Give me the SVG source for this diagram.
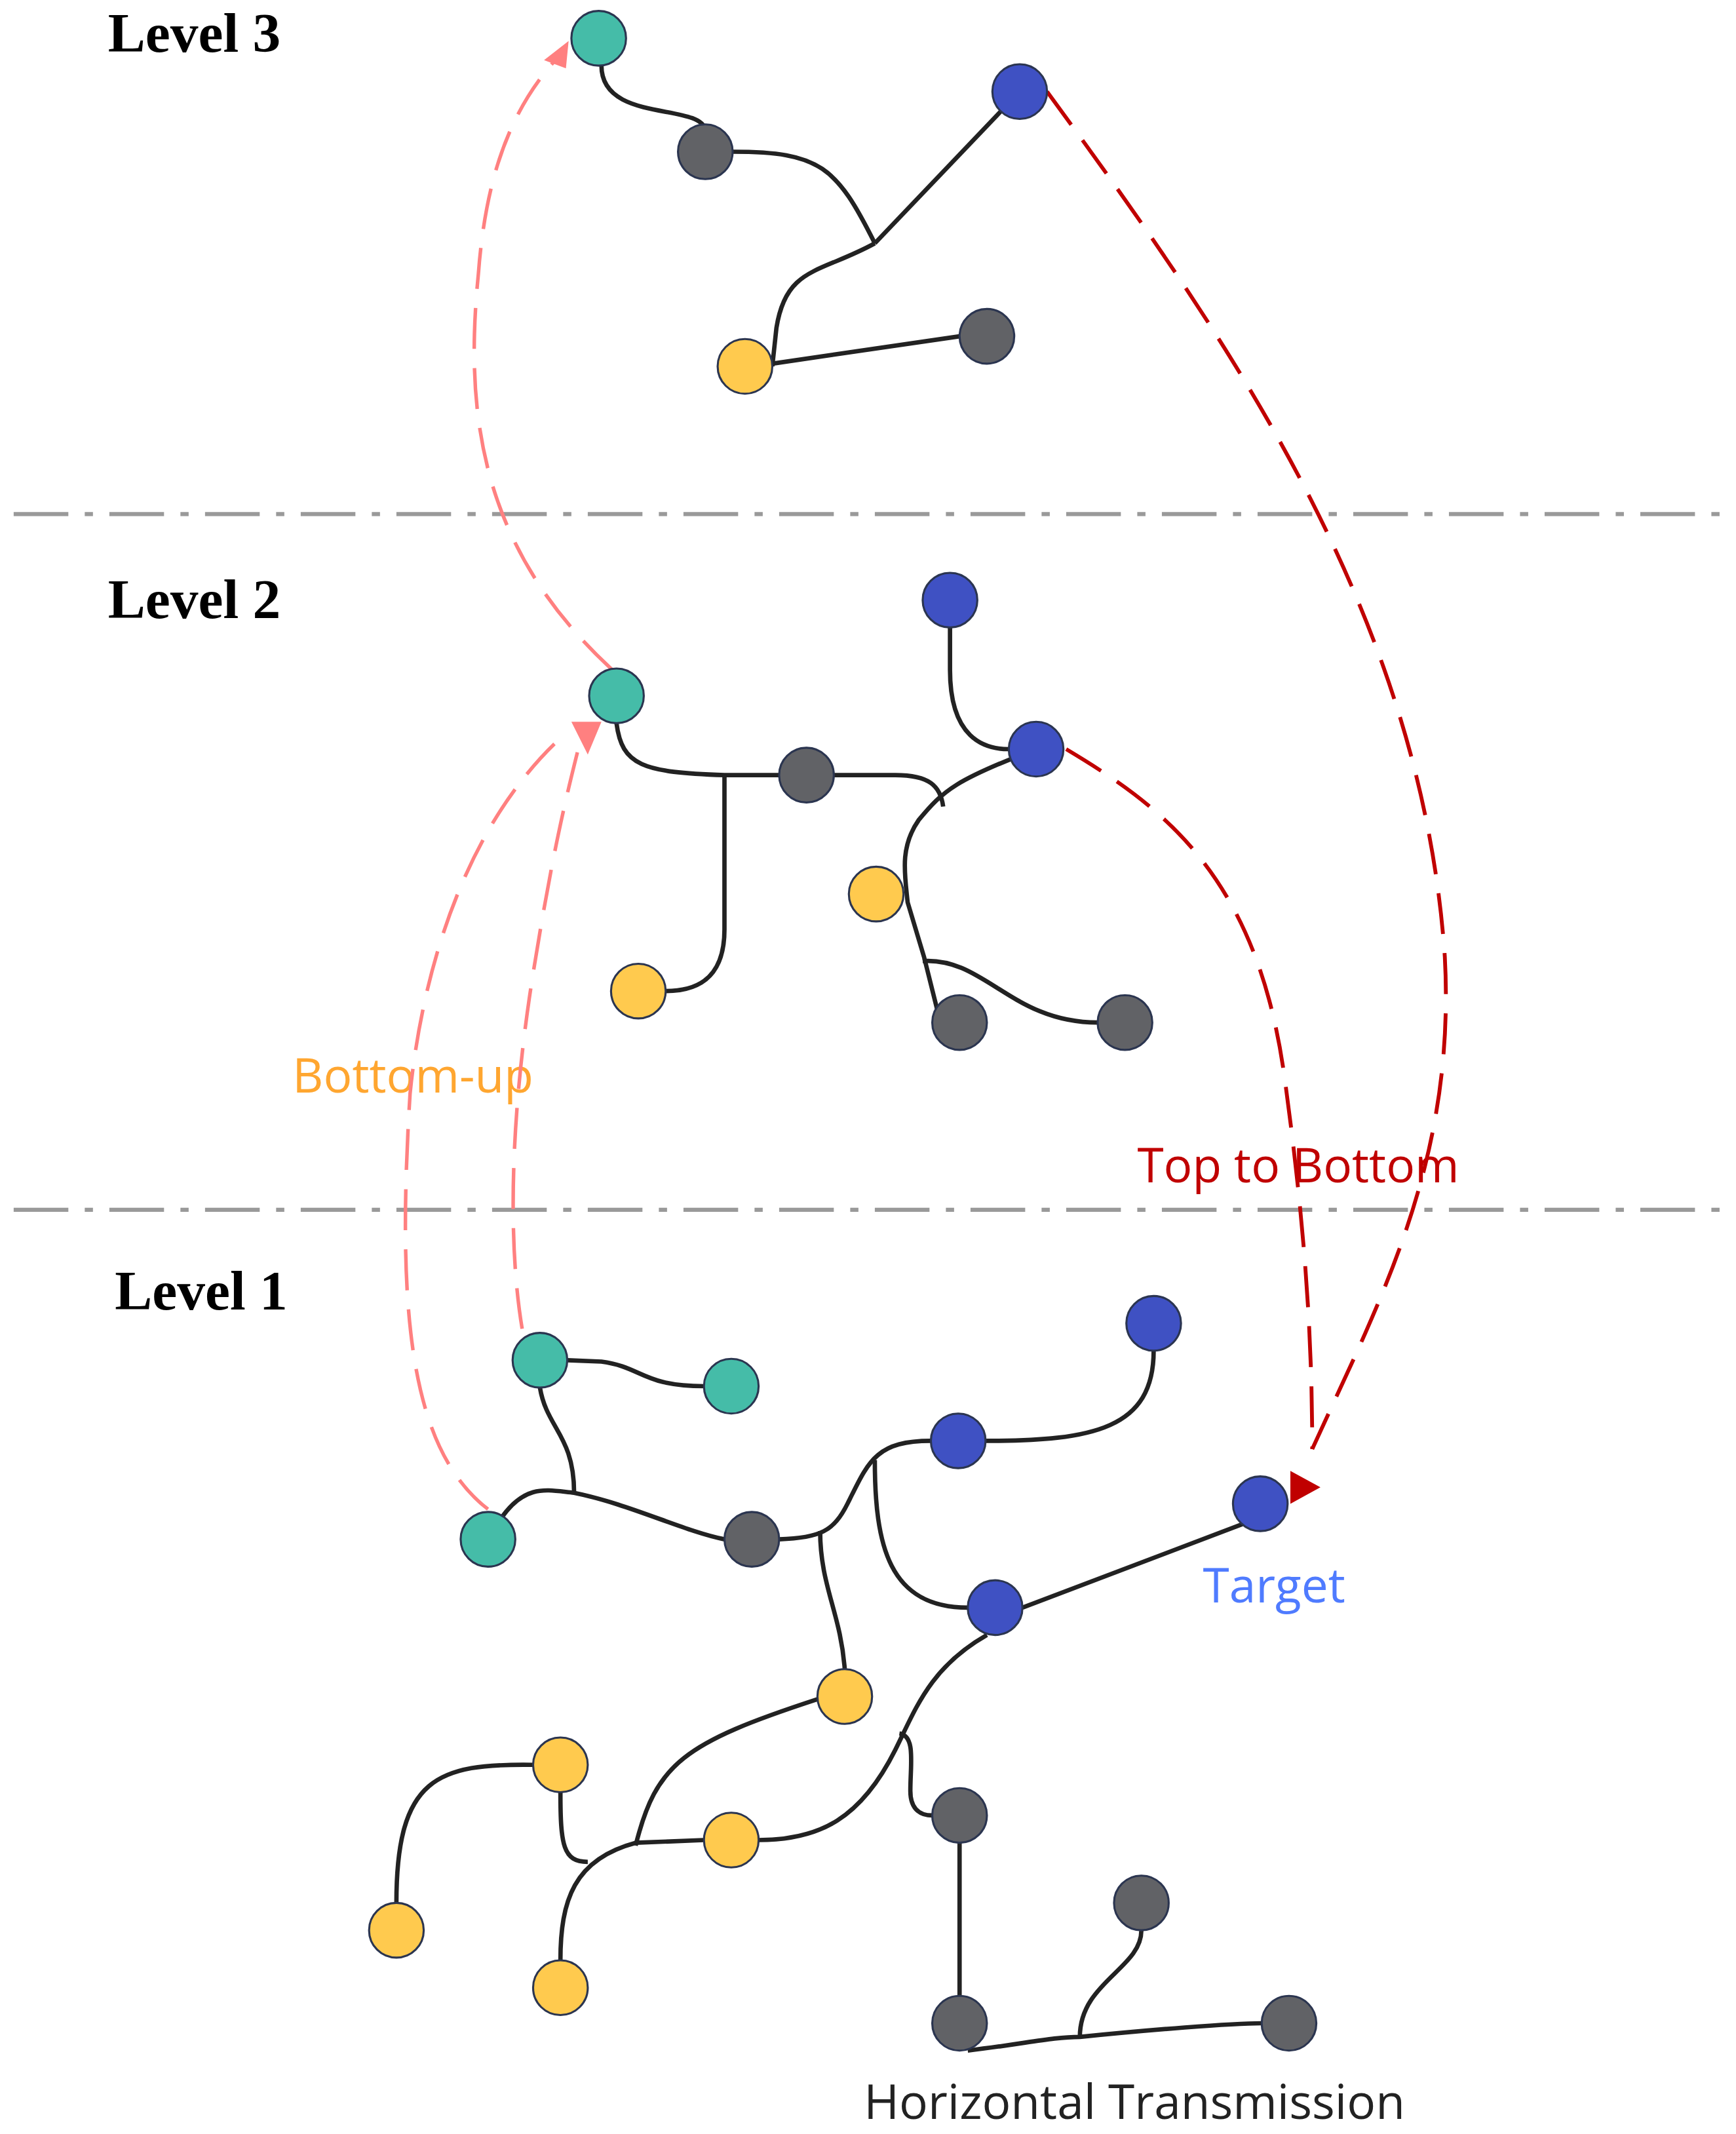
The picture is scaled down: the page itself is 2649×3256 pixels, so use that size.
<svg xmlns="http://www.w3.org/2000/svg" width="2649" height="3256" viewBox="0 0 2649 3256">
<style>
.n{stroke:#2b3550;stroke-width:1.5}
.t{fill:#45BCA8}.b{fill:#3F51C3}.g{fill:#616266}.y{fill:#FFCA4E}
.e{fill:none;stroke:#222;stroke-width:3.2}
.pk{fill:none;stroke:#FF8080;stroke-width:2.6;stroke-dasharray:30 14}
.rd{fill:none;stroke:#C00000;stroke-width:2.8;stroke-dasharray:30 14}
.sep{stroke:#999;stroke-width:3;stroke-dasharray:40 12 6 12}
.lv{font-family:"Liberation Serif",serif;font-weight:bold;font-size:41px;fill:#000}
.lb{font-family:"Open Sans","DejaVu Sans",sans-serif;font-size:35px}
</style>
<rect width="2649" height="3256" fill="#fff"/>
<g transform="scale(2.0858)">
<line class="sep" x1="10" y1="376" x2="1265" y2="376"/>
<line class="sep" x1="10" y1="885" x2="1265" y2="885"/>
<g id="labels">
<text class="lv" x="79" y="38">Level 3</text>
<text class="lv" x="79" y="452">Level 2</text>
<text class="lv" x="84" y="958">Level 1</text>
<text class="lb" x="214" y="799" fill="#FFA630">Bottom-up</text>
<text class="lb" x="832" y="865" fill="#C00000">Top to Bottom</text>
<text class="lb" x="880" y="1172" fill="#4F7BFF" font-size="44">Target</text>
<text class="lb" x="632" y="1550" fill="#222" font-size="34">Horizontal Transmission</text>
</g>
<g id="connectors">
<path class="e" d="M440,48 C440,90 512,75 516,95"/>
<path class="e" d="M536,111 C600,111 612,122 640,178"/>
<path class="e" d="M746,67 L640,178"/>
<path class="e" d="M640,178 C600,200 575,195 568,240 L565,268"/>
<path class="e" d="M565,266 L702,246"/>
<path class="e" d="M695,459 L695,490 C695,540 720,548 738,548"/>
<path class="e" d="M758,548 C700,570 690,578 672,600 C658,620 662,640 664,660 L676,700 L688,748"/>
<path class="e" d="M675,703 C720,700 740,748 803,748"/>
<path class="e" d="M451,529 C455,560 470,565 530,567 L570,567"/>
<path class="e" d="M610,567 L655,567 C680,567 688,575 690,590"/>
<path class="e" d="M530,567 L530,680 C530,720 505,725 487,725"/>
<path class="e" d="M415,995 L440,996 C470,1000 470,1014 515,1014"/>
<path class="e" d="M395,1015 C400,1045 420,1050 420,1092"/>
<path class="e" d="M367,1110 C385,1085 400,1090 420,1092 C460,1100 500,1120 530,1126"/>
<path class="e" d="M570,1126 C600,1125 610,1120 620,1100 C635,1070 640,1054 681,1054"/>
<path class="e" d="M721,1054 C800,1054 844,1045 844,988"/>
<path class="e" d="M640,1068 C640,1130 650,1176 708,1176"/>
<path class="e" d="M748,1176 L922,1110"/>
<path class="e" d="M600,1120 C600,1160 615,1180 618,1221"/>
<path class="e" d="M722,1196 C680,1220 670,1250 655,1280 C630,1330 600,1346 555,1346"/>
<path class="e" d="M658,1268 C670,1270 666,1290 666,1310 C666,1325 675,1328 682,1328"/>
<path class="e" d="M598,1243 C500,1275 480,1290 465,1350"/>
<path class="e" d="M515,1346 L465,1348 C420,1360 410,1390 410,1434"/>
<path class="e" d="M410,1311 C410,1350 412,1362 430,1362"/>
<path class="e" d="M390,1291 C320,1290 290,1300 290,1392"/>
<path class="e" d="M702,1348 L702,1460"/>
<path class="e" d="M708,1500 C750,1495 770,1490 790,1490 C840,1485 900,1480 923,1480"/>
<path class="e" d="M835,1412 C835,1440 790,1450 790,1490"/>
<path class="pk" d="M448,490 C350,400 340,300 350,200 C356,120 378,75 408,42"/>
<polygon points="416,30 398,44 414,50" fill="#FF8080"/>
<path class="pk" d="M357,1104 C300,1060 290,960 300,800 C310,700 345,600 410,540"/>
<path class="pk" d="M382,972 C370,900 375,800 392,700 C405,620 415,580 423,548"/>
<polygon points="440,528 418,528 430,552" fill="#FF8080"/>
<path class="rd" d="M766,67 C900,250 1040,450 1057,700 C1065,850 1010,950 960,1060"/>
<path class="rd" d="M780,548 C850,590 920,640 940,790 C955,900 960,980 960,1060"/>
<polygon points="944,1076 944,1100 966,1088" fill="#C00000"/>
</g>
<g id="n1"><circle class="n t" cx="438" cy="28" r="20"/></g>
<g id="n2"><circle class="n g" cx="516" cy="111" r="20"/></g>
<g id="n3"><circle class="n b" cx="746" cy="67" r="20"/></g>
<g id="n4"><circle class="n y" cx="545" cy="268" r="20"/></g>
<g id="n5"><circle class="n g" cx="722" cy="246" r="20"/></g>
<g id="n6"><circle class="n b" cx="695" cy="439" r="20"/></g>
<g id="n7"><circle class="n b" cx="758" cy="548" r="20"/></g>
<g id="n8"><circle class="n t" cx="451" cy="509" r="20"/></g>
<g id="n9"><circle class="n g" cx="590" cy="567" r="20"/></g>
<g id="n10"><circle class="n y" cx="641" cy="654" r="20"/></g>
<g id="n11"><circle class="n y" cx="467" cy="725" r="20"/></g>
<g id="n12"><circle class="n g" cx="702" cy="748" r="20"/></g>
<g id="n13"><circle class="n g" cx="823" cy="748" r="20"/></g>
<g id="n14"><circle class="n t" cx="395" cy="995" r="20"/></g>
<g id="n15"><circle class="n t" cx="535" cy="1014" r="20"/></g>
<g id="n16"><circle class="n t" cx="357" cy="1126" r="20"/></g>
<g id="n17"><circle class="n g" cx="550" cy="1126" r="20"/></g>
<g id="n18"><circle class="n b" cx="844" cy="968" r="20"/></g>
<g id="n19"><circle class="n b" cx="701" cy="1054" r="20"/></g>
<g id="n20"><circle class="n b" cx="922" cy="1100" r="20"/></g>
<g id="n21"><circle class="n b" cx="728" cy="1176" r="20"/></g>
<g id="n22"><circle class="n y" cx="618" cy="1241" r="20"/></g>
<g id="n23"><circle class="n y" cx="410" cy="1291" r="20"/></g>
<g id="n24"><circle class="n y" cx="535" cy="1346" r="20"/></g>
<g id="n25"><circle class="n y" cx="290" cy="1412" r="20"/></g>
<g id="n26"><circle class="n y" cx="410" cy="1454" r="20"/></g>
<g id="n27"><circle class="n g" cx="702" cy="1328" r="20"/></g>
<g id="n28"><circle class="n g" cx="835" cy="1392" r="20"/></g>
<g id="n29"><circle class="n g" cx="702" cy="1480" r="20"/></g>
<g id="n30"><circle class="n g" cx="943" cy="1480" r="20"/></g>
</g>
</svg>
